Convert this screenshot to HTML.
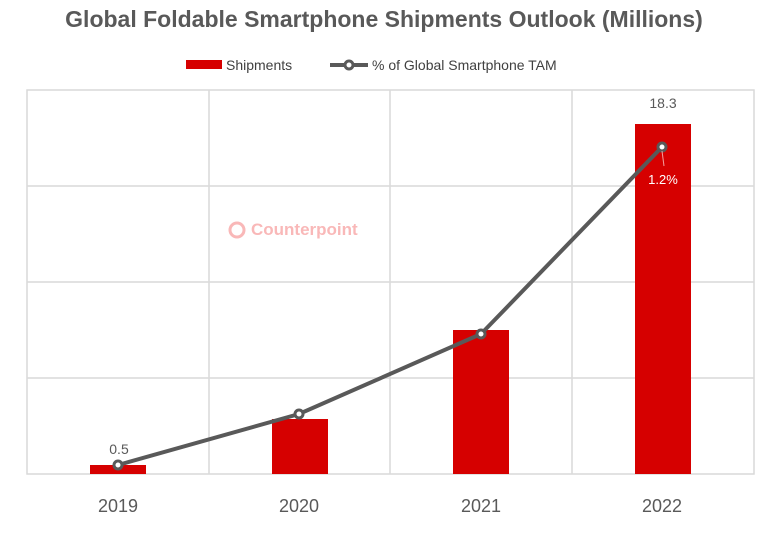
<!DOCTYPE html>
<html><head><style>
body{margin:0;background:#fff;width:768px;height:536px;overflow:hidden;font-family:"Liberation Sans",sans-serif}
</style></head><body>
<svg width="768" height="536" viewBox="0 0 768 536">
<text x="384" y="27" text-anchor="middle" font-family="Liberation Sans" font-weight="bold" font-size="23" fill="#595959">Global Foldable Smartphone Shipments Outlook (Millions)</text>
<rect x="186" y="60" width="36" height="9" fill="#d60000"/>
<text x="226" y="70" font-size="14" fill="#404040">Shipments</text>
<line x1="330" y1="65" x2="368" y2="65" stroke="#595959" stroke-width="4"/>
<circle cx="349" cy="65" r="4" fill="#fff" stroke="#595959" stroke-width="3"/>
<text x="372" y="70" font-size="14" fill="#404040">% of Global Smartphone TAM</text>
<g stroke="#d9d9d9" stroke-width="1.5" fill="none">
<rect x="27" y="90" width="727" height="384"/>
<line x1="27" y1="186" x2="754" y2="186"/>
<line x1="27" y1="282" x2="754" y2="282"/>
<line x1="27" y1="378" x2="754" y2="378"/>
<line x1="209" y1="90" x2="209" y2="474"/>
<line x1="390" y1="90" x2="390" y2="474"/>
<line x1="572" y1="90" x2="572" y2="474"/>
</g>
<text x="251" y="235" font-size="17" font-weight="bold" fill="#f9b8b8">Counterpoint</text>
<circle cx="237" cy="230" r="7" fill="none" stroke="#f9b8b8" stroke-width="3"/>
<rect x="90" y="465" width="56" height="9" fill="#d60000"/>
<rect x="272" y="419" width="56" height="55" fill="#d60000"/>
<rect x="453" y="330" width="56" height="144" fill="#d60000"/>
<rect x="635" y="124" width="56" height="350" fill="#d60000"/>
<polyline points="118,465 299,414 481,334 662,147" fill="none" stroke="#595959" stroke-width="4"/>
<g fill="#fff" stroke="#595959" stroke-width="3">
<circle cx="118" cy="465" r="4"/><circle cx="299" cy="414" r="4"/><circle cx="481" cy="334" r="4"/><circle cx="662" cy="147" r="4"/>
</g>
<line x1="662" y1="151" x2="664" y2="166" stroke="#f2a0a0" stroke-width="1"/>
<text x="663" y="184" text-anchor="middle" font-size="13" fill="#fff">1.2%</text>
<text x="119" y="454" text-anchor="middle" font-size="14" fill="#595959">0.5</text>
<text x="663" y="108" text-anchor="middle" font-size="14" fill="#595959">18.3</text>
<g font-size="18" fill="#595959" text-anchor="middle">
<text x="118" y="512">2019</text><text x="299" y="512">2020</text><text x="481" y="512">2021</text><text x="662" y="512">2022</text>
</g>
</svg>
</body></html>
